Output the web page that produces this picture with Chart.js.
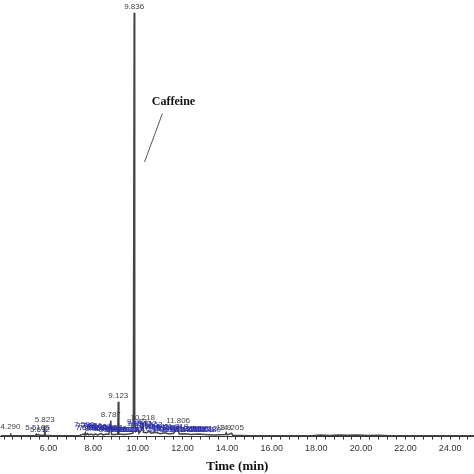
<!DOCTYPE html>
<html>
<head>
<meta charset="utf-8">
<script src="https://cdn.jsdelivr.net/npm/chart.js@4/dist/chart.umd.min.js"></script>
<style>
  html, body { margin: 0; padding: 0; background: #fff; }
  #wrap { width: 474px; height: 474px; }
</style>
</head>
<body>
<div id="wrap"><canvas id="chrom"></canvas></div>
<script>
// Retention time (min) and detector signal (% of the largest peak)
const rtTimes = [
  3.85, 4.20, 4.27, 4.29, 4.31, 5.00, 5.40, 5.45, 5.48, 5.55, 5.58, 5.80, 5.823, 5.85,
  6.20, 7.40, 7.55, 7.60, 7.65, 7.68, 7.75, 7.80, 7.90, 8.00, 8.10, 8.20, 8.35, 8.45,
  8.60, 8.70, 8.787, 8.82, 9.00, 9.10, 9.123, 9.15, 9.40, 9.60, 9.78, 9.80, 9.836, 9.86,
  9.90, 10.00, 10.05, 10.15, 10.218, 10.25, 10.40, 10.50, 10.60, 10.80, 11.00, 11.20,
  11.40, 11.60, 11.806, 11.85, 12.10, 12.40, 12.70, 13.00, 13.40, 13.93, 13.96, 14.00,
  14.205, 14.25, 15.00, 17.80, 18.20, 18.60, 19.00, 19.40, 19.80, 20.30, 20.80, 21.30,
  22.50, 25.07
];
const rtSignal = [
  0.2, 0.2, 0.25, 0.8, 0.25, 0.2, 0.25, 0.6, 0.3, 0.5, 0.3, 0.3, 2.6, 0.3,
  0.2, 0.25, 0.6, 0.4, 0.9, 0.4, 0.7, 0.4, 0.6, 0.4, 0.6, 0.4, 0.7, 0.4,
  0.6, 0.5, 3.8, 0.5, 0.5, 0.6, 8.2, 0.6, 0.5, 0.6, 0.8, 5.0, 100, 4.0,
  1.2, 1.8, 0.8, 1.5, 3.0, 1.0, 0.9, 1.3, 0.8, 1.0, 0.7, 0.9,
  0.6, 0.8, 2.2, 0.6, 0.7, 0.5, 0.6, 0.5, 0.4, 0.5, 0.9, 0.4,
  0.8, 0.3, 0.2, 0.2, 0.35, 0.25, 0.4, 0.3, 0.35, 0.25, 0.3, 0.2,
  0.2, 0.2
];

// Peak labels printed by the instrument (grey = main peaks)
const peakNames = ["4.290", "5.5165", "5.823", "8.787", "9.123", "9.836", "10.218", "11.806", "13.9", "14.205"];
const peakTimes = [4.29, 5.50, 5.823, 8.787, 9.123, 9.836, 10.218, 11.806, 13.85, 14.205];
const peakLevels = [0.8, 0.6, 2.6, 3.8, 8.2, 100, 3.0, 2.2, 0.6, 0.6];

// Crowded small-peak labels (blue)
const minorNames = [
  "5.612", "7.590", "7.652", "7.702", "7.788", "7.936", "8.068", "8.146", "8.243", "8.367",
  "8.486", "8.596", "8.698", "8.857", "8.953", "9.060", "9.263", "9.392", "9.507", "9.622",
  "9.737", "9.963", "10.047", "10.150", "10.312", "10.434", "10.563", "10.691", "10.845",
  "11.010", "11.155", "11.287", "11.430", "11.572", "11.718", "11.946", "12.088", "12.230",
  "12.395", "12.533", "12.695", "12.853", "13.012", "13.180"
];
const minorTimes = [
  5.61, 7.59, 7.65, 7.70, 7.79, 7.94, 8.07, 8.15, 8.24, 8.37,
  8.49, 8.60, 8.70, 8.86, 8.95, 9.06, 9.26, 9.39, 9.51, 9.62,
  9.74, 9.96, 10.05, 10.15, 10.31, 10.43, 10.56, 10.69, 10.85,
  11.01, 11.16, 11.29, 11.43, 11.57, 11.72, 11.95, 12.09, 12.23,
  12.40, 12.53, 12.70, 12.85, 13.01, 13.18
];
const minorLevels = [
  0.4, 1.6, 0.9, 1.4, 0.8, 1.3, 0.7, 1.2, 0.8, 1.1,
  0.6, 0.9, 0.5, 0.9, 0.5, 0.6, 0.5, 0.4, 0.5, 0.4,
  0.5, 2.4, 1.8, 1.4, 1.9, 1.1, 1.5, 0.7, 1.2,
  0.5, 0.9, 0.6, 1.0, 0.5, 1.1, 0.5, 0.7, 0.4,
  0.6, 0.4, 0.6, 0.5, 0.6, 0.4
];

// Axis labels
const majorTicks = [6, 8, 10, 12, 14, 16, 18, 20, 22, 24];
const xMin = 3.85, xMax = 25.07;

// Caffeine callout, in data units
const calloutText = "Caffeine";
const calloutAt = [11.6, 79];
const calloutLine = [[11.1, 76.2], [10.3, 64.8]];

const points = rtTimes.map((t, i) => ({ x: t, y: rtSignal[i] }));

const labelPlugin = {
  id: "peakLabels",
  afterDatasetsDraw(chart) {
    const { ctx, scales } = chart;
    const x = scales.x, y = scales.y;
    ctx.save();
    ctx.textAlign = "center";
    ctx.textBaseline = "bottom";

    // blue labels first
    ctx.font = "8px 'Liberation Sans Narrow', 'Liberation Sans', sans-serif";
    ctx.fillStyle = "#2b2fa8";
    minorNames.forEach((name, i) => {
      ctx.fillText(name, x.getPixelForValue(minorTimes[i]), y.getPixelForValue(minorLevels[i]) - 1);
    });

    ctx.fillStyle = "#444";
    peakNames.forEach((name, i) => {
      ctx.fillText(name, x.getPixelForValue(peakTimes[i]), y.getPixelForValue(peakLevels[i]) - 2);
    });

    // caffeine callout
    ctx.font = "bold 12px 'Liberation Serif', serif";
    ctx.fillStyle = "#111";
    ctx.textBaseline = "middle";
    ctx.fillText(calloutText, x.getPixelForValue(calloutAt[0]), y.getPixelForValue(calloutAt[1]));
    ctx.strokeStyle = "#555";
    ctx.lineWidth = 1;
    ctx.beginPath();
    ctx.moveTo(x.getPixelForValue(calloutLine[0][0]), y.getPixelForValue(calloutLine[0][1]));
    ctx.lineTo(x.getPixelForValue(calloutLine[1][0]), y.getPixelForValue(calloutLine[1][1]));
    ctx.stroke();
    ctx.restore();
  }
};

new Chart(document.getElementById("chrom"), {
  type: "scatter",
  data: {
    datasets: [
      {
        data: points,
        showLine: true,
        borderColor: "#444",
        borderWidth: 1.5,
        pointRadius: 0,
        tension: 0,
      },
    ],
  },
  options: {
    responsive: true,
    maintainAspectRatio: false,
    animation: false,
    layout: { padding: 0 },
    plugins: {
      legend: { display: false },
      tooltip: { enabled: false },
    },
    scales: {
      x: {
        type: "linear",
        min: xMin,
        max: xMax,
        afterBuildTicks: (scale) => {
          const ticks = [];
          for (let v = 4; v <= 25; v += 0.4) ticks.push({ value: Math.round(v * 10) / 10 });
          scale.ticks = ticks;
        },
        ticks: {
          autoSkip: false,
          maxRotation: 0,
          padding: 4,
          color: "#333",
          font: { size: 9, family: "'Liberation Sans Narrow', 'Liberation Sans', sans-serif" },
          callback: (v) => (majorTicks.includes(v) ? v.toFixed(2) : ""),
        },
        grid: {
          drawOnChartArea: false,
          drawTicks: true,
          tickLength: 3,
          color: "#333",
        },
        border: { display: true, color: "#333", width: 1 },
        title: {
          display: true,
          text: "Time (min)",
          color: "#111",
          font: { size: 13, weight: "bold", family: "'Liberation Serif', serif" },
          padding: { top: 0, bottom: 0 },
        },
      },
      y: {
        display: false,
        min: 0,
        max: 103,
      },
    },
  },
  plugins: [labelPlugin],
});
</script>
</body>
</html>
